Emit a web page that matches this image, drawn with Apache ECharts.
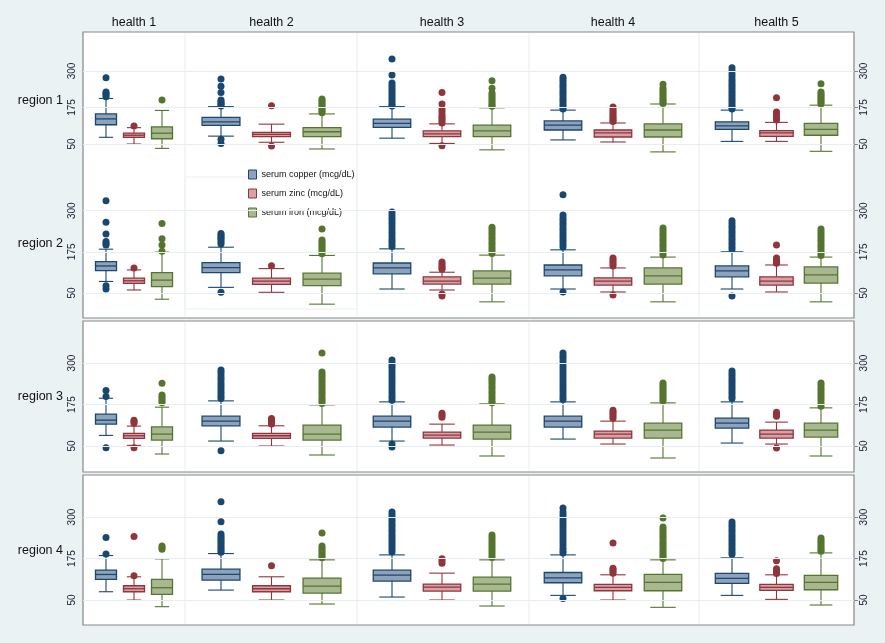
<!DOCTYPE html>
<html>
<head>
<meta charset="utf-8">
<script src="https://cdn.jsdelivr.net/npm/echarts@6/dist/echarts.min.js"></script>
<style>
html,body{margin:0;padding:0;background:#eaf2f3;}
#c{width:885px;height:643px;}
</style>
</head>
<body>
<div id="c"></div>
<script>
// ---------- data ----------
const healthGroups = ['health 1', 'health 2', 'health 3', 'health 4', 'health 5'];
const regions = ['region 1', 'region 2', 'region 3', 'region 4'];
const measures = ['serum copper (mcg/dL)', 'serum zinc (mcg/dL)', 'serum iron (mcg/dL)'];
const yTicks = [50, 175, 300];

// [lower whisker, q1, median, q3, upper whisker]  [region][health]
const copperStats = [
  [[73,116,136,153,206],[77,114,126,141,178],[70,107,121,135,178],[64,98,115,129,166],[59,100,112,126,166]],
  [[85,118,132,145,183],[67,112,127,142,189],[62,108,126,141,184],[62,102,120,135,181],[62,99,117,132,175]],
  [[82,116,128,146,194],[65,111,125,140,186],[65,107,125,140,183],[71,107,125,140,183],[59,104,119,134,183]],
  [[75,112,127,140,184],[80,110,127,143,190],[59,107,125,140,186],[64,102,117,133,186],[64,100,115,130,177]]
];
const zincStats = [
  [[50,73,80,87,106],[56,75,83,90,118],[52,75,85,95,119],[57,74,88,98,122],[59,76,88,96,124]],
  [[59,79,87,95,120],[52,76,86,95,124],[59,77,86,99,113],[53,74,86,96,126],[53,74,86,99,135]],
  [[52,73,81,88,110],[50,73,81,88,111],[53,74,83,92,116],[56,74,86,95,125],[56,74,86,98,122]],
  [[50,75,84,93,120],[50,75,84,93,120],[50,77,89,98,131],[50,78,88,97,126],[52,79,88,97,126]]
];
const ironStats = [
  [[35,68,87,109,165],[33,75,92,106,153],[30,75,95,115,174],[23,74,98,119,187],[25,80,100,121,183]],
  [[31,69,89,112,174],[16,72,92,110,164],[23,77,95,117,165],[23,77,102,126,159],[23,80,105,129,159]],
  [[26,68,86,108,167],[23,68,86,113,174],[20,71,92,113,177],[14,74,98,119,180],[20,77,98,119,165]],
  [[30,67,87,112,174],[38,71,92,116,171],[32,77,98,119,171],[28,78,103,127,171],[35,81,103,124,192]]
];

// outside values  [region][health]
const copperOutliers = [
  [[277,228,223,218,212],
   [273,248,226,201,195,190,185,180,66,52],
   [341,286,259,251,243,235,227,219,211,203,195,187,180],
   [279,271,263,255,247,239,231,223,215,207,199,191,183,175,170],
   [311,301,290,280,270,262,254,246,238,230,222,214,206,198,190,182,175,170]],
  [[330,265,229,206,200,196,72,62],
   [231,226,221,216,211,205,199,52],
   [296,287,278,269,260,251,242,233,224,215,207,199,191],
   [348,287,278,270,262,254,246,238,230,222,214,206,198,190,53],
   [269,261,253,245,237,229,221,213,205,197,189,181,41]],
  [[217,199,45],
   [279,272,264,256,249,240,232,224,216,208,200,193,36],
   [309,300,292,285,276,267,258,249,240,231,222,213,204,196,188,56,47],
   [330,322,315,306,297,288,279,270,261,252,243,234,225,216,207,198,190],
   [276,268,261,253,246,238,231,223,216,208,200,193]],
  [[238,189],
   [346,286,249,242,236,230,225,219,212,206,200,194],
   [315,307,300,292,285,277,270,262,255,247,240,232,225,217,210,202,195],
   [327,315,306,297,288,279,270,261,252,243,234,225,216,206,198,192,55],
   [285,277,270,262,255,247,240,232,225,217,210,202,195,188]]
];
const zincOutliers = [
  [[112],[181,43],[226,187,169,160,149,142,136,129,122,44],[177,170,163,156,149,143,137,131,127],[208,160,150,143,137,132]],
  [[126],[133],[144,138,132,126,122,47,41],[156,150,144,138,132,44],[196,156,150,144,140]],
  [[128,123,119,45],[133,129,125,120,116],[149,143,137],[158,152,146,140,134],[152,146,140,44]],
  [[241,123],[153],[174,168,161],[222,146,141,136,131],[168,144,139,134,130]]
];
const ironOutliers = [
  [[201],
   [204,198,192,186,180,174,168,162,157],
   [267,241,225,218,211,204,197,190,184,179],
   [255,242,235,228,221,214,207,201,194,189],
   [256,228,222,216,210,204,198,192,187]],
  [[261,215,196,177],
   [244,211,205,199,193,187,181,175,169],
   [250,243,235,228,220,213,205,198,190,183,175,170],
   [247,240,232,225,217,210,202,195,187,180,172,165],
   [244,237,229,222,214,207,199,192,184,177,170,164]],
  [[239,204,198,192,186,180],
   [330,273,265,258,250,243,235,228,221,213,206,198,191,185,178],
   [258,252,246,239,231,224,216,209,201,193,185,180],
   [240,234,228,222,216,210,204,198,192,186],
   [240,233,225,218,210,202,195,187,179,170]],
  [[213,208,203],
   [252,213,207,201,195,189,183,177],
   [246,238,231,223,216,208,201,193,186,178],
   [297,270,263,256,249,242,235,228,221,214,207,200,193,186,180,175],
   [237,231,225,219,213,207,201,197]]
];

// ---------- layout / style ----------
const FONT = 'Liberation Sans, Arial, Helvetica, sans-serif';
const Y_MIN = -27, Y_MAX = 426;
const rowBands = [[34.2, 132.3], [169.2, 149.1], [321.2, 150.4], [475.2, 150.4]];
const colBands = [[92, 84], [195.75, 151.5], [367, 150], [538, 150], [709.75, 133.5]];
const frames = [[32, 286], [321, 151], [475, 150]];
const palette = [
  { fill: '#8ea2bb', line: '#1a476f' },
  { fill: '#d6a2a7', line: '#90353b' },
  { fill: '#a9b891', line: '#55752f' }
];
const allStats = [copperStats, zincStats, ironStats];
const allOutliers = [copperOutliers, zincOutliers, ironOutliers];

function makeBox(k) {
  const col = palette[k];
  return function (params, api) {
    const x = api.value(0);
    const pLo = api.coord([x, api.value(1)]);
    const pQ1 = api.coord([x, api.value(2)]);
    const pMd = api.coord([x, api.value(3)]);
    const pQ3 = api.coord([x, api.value(4)]);
    const pHi = api.coord([x, api.value(5)]);
    const band = api.size([1, 0])[0];
    const bw = band * 0.75, cw = bw * 0.68, cx = pLo[0];
    const ls = { stroke: col.line, lineWidth: 1.1 };
    return {
      type: 'group',
      children: [
        { type: 'line', shape: { x1: cx, y1: pHi[1], x2: cx, y2: pQ3[1] }, style: ls },
        { type: 'line', shape: { x1: cx, y1: pQ1[1], x2: cx, y2: pLo[1] }, style: ls },
        { type: 'line', shape: { x1: cx - cw / 2, y1: pHi[1], x2: cx + cw / 2, y2: pHi[1] }, style: ls },
        { type: 'line', shape: { x1: cx - cw / 2, y1: pLo[1], x2: cx + cw / 2, y2: pLo[1] }, style: ls },
        { type: 'rect', shape: { x: cx - bw / 2, y: pQ3[1], width: bw, height: pQ1[1] - pQ3[1] },
          style: { fill: col.fill, stroke: col.line, lineWidth: 1.3 } },
        { type: 'line', shape: { x1: cx - bw / 2, y1: pMd[1], x2: cx + bw / 2, y2: pMd[1] },
          style: { stroke: col.line, lineWidth: 1.3 } }
      ]
    };
  };
}

const grids = [], xAxes = [], yAxes = [], series = [];

// frames
frames.forEach(function (f) {
  const g = grids.length;
  grids.push({ left: 83, top: f[0], width: 771, height: f[1], show: true,
    backgroundColor: '#ffffff', borderColor: '#878787', borderWidth: 1.2,
    containLabel: false, outerBoundsMode: 'none' });
  xAxes.push({ gridIndex: g, type: 'value', show: false });
  yAxes.push({ gridIndex: g, type: 'value', show: false });
});

// row axis grids (tick labels, region names, grid lines)
rowBands.forEach(function (b, r) {
  const g = grids.length;
  grids.push({ left: 83, top: b[0], width: 771, height: b[1], show: false,
    containLabel: false, outerBoundsMode: 'none' });
  const xi = xAxes.length;
  xAxes.push({ gridIndex: g, type: 'value', min: 0, max: 1, show: false });
  const yl = yAxes.length;
  yAxes.push({
    gridIndex: g, type: 'value', position: 'left', min: Y_MIN, max: Y_MAX,
    name: regions[r], nameLocation: 'middle', nameRotate: 0, nameGap: 20,
    nameTextStyle: { fontSize: 12.5, color: '#111', fontFamily: FONT },
    axisLine: { show: false }, axisTick: { show: false }, splitLine: { show: false },
    axisLabel: { customValues: yTicks, rotate: 90, margin: 6, fontSize: 10, color: '#22223a', fontFamily: FONT }
  });
  yAxes.push({
    gridIndex: g, type: 'value', position: 'right', min: Y_MIN, max: Y_MAX,
    axisLine: { show: false },
    axisTick: { show: true, customValues: yTicks, length: 4, lineStyle: { color: '#878787', width: 1 } },
    splitLine: { show: false },
    axisLabel: { customValues: yTicks, rotate: 90, margin: 5, fontSize: 10, color: '#22223a', fontFamily: FONT }
  });
  series.push({
    type: 'scatter', xAxisIndex: xi, yAxisIndex: yl, data: [[0.5, 100]], symbolSize: 0,
    silent: true, z: 1,
    markLine: {
      silent: true, symbol: 'none', animation: false, label: { show: false },
      lineStyle: { color: '#e6eef1', width: 1, type: 'solid' },
      data: yTicks.map(function (v) { return { yAxis: v }; })
    }
  });
});

// panels
rowBands.forEach(function (b, r) {
  colBands.forEach(function (cb, c) {
    const g = grids.length;
    grids.push({ left: cb[0], top: b[0], width: cb[1], height: b[1], show: false,
      containLabel: false, outerBoundsMode: 'none' });
    const xi = xAxes.length;
    xAxes.push({
      gridIndex: g, type: 'category', data: measures, position: 'top', show: r === 0,
      axisLine: { show: false }, axisTick: { show: false }, axisLabel: { show: false },
      splitLine: { show: false },
      name: r === 0 ? healthGroups[c] : '', nameLocation: 'middle', nameGap: 5,
      nameTextStyle: { fontSize: 12.5, color: '#111', fontFamily: FONT }
    });
    const yi = yAxes.length;
    yAxes.push({ gridIndex: g, type: 'value', min: Y_MIN, max: Y_MAX, show: false });
    measures.forEach(function (m, k) {
      series.push({
        type: 'custom', name: m, xAxisIndex: xi, yAxisIndex: yi,
        renderItem: makeBox(k), clip: false, silent: true, z: 3,
        itemStyle: { color: palette[k].fill, borderColor: palette[k].line },
        encode: { x: 0, y: [1, 2, 3, 4, 5] },
        data: [[k].concat(allStats[k][r][c])]
      });
      series.push({
        type: 'scatter', name: m, xAxisIndex: xi, yAxisIndex: yi, silent: true, z: 4,
        symbol: 'circle', symbolSize: 7,
        itemStyle: { color: palette[k].line, opacity: 1 },
        data: allOutliers[k][r][c].map(function (v) { return [k, v]; })
      });
    });
  });
});

// decorative separators
const graphics = [];
[185, 357, 529, 699].forEach(function (x) {
  frames.forEach(function (f) {
    graphics.push({ type: 'line', z: 1, silent: true,
      shape: { x1: x, y1: f[0] + 1, x2: x, y2: f[0] + f[1] - 1 },
      style: { stroke: '#e8eef1', lineWidth: 1 } });
  });
});
graphics.push({ type: 'rect', z: 1, silent: true,
  shape: { x: 185, y: 177, width: 172, height: 132 },
  style: { fill: 'rgba(255,255,255,0)', stroke: '#eaf0f2', lineWidth: 1 } });

const chart = echarts.init(document.getElementById('c'));
chart.setOption({
  backgroundColor: '#eaf2f3',
  animation: false,
  textStyle: { fontFamily: FONT },
  grid: grids,
  xAxis: xAxes,
  yAxis: yAxes,
  graphic: { elements: graphics },
  legend: {
    orient: 'vertical', left: 248, top: 169.5, padding: 0,
    itemWidth: 8, itemHeight: 9, itemGap: 9, selectedMode: false,
    textStyle: { fontSize: 9, lineHeight: 9, color: '#111', fontFamily: FONT },
    data: measures.map(function (m, k) {
      return { name: m, icon: 'rect',
        itemStyle: { color: palette[k].fill, borderColor: palette[k].line, borderWidth: 1 } };
    })
  },
  series: series
});
</script>
</body>
</html>
